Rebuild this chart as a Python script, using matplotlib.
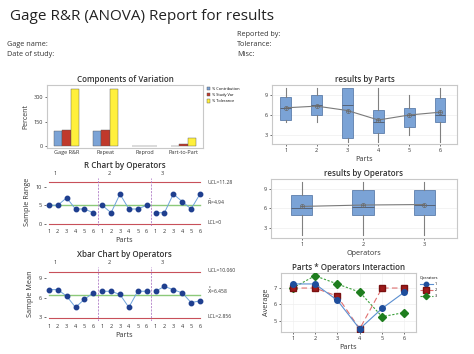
import matplotlib
matplotlib.use('Agg')
import matplotlib.pyplot as plt
import matplotlib.transforms as mtransforms
from matplotlib.patches import Patch

plt.rcParams['font.family'] = ['Open Sans', 'DejaVu Sans']
plt.rcParams['axes.unicode_minus'] = False

# ---------------- data ----------------
components = ['Gage R&R', 'Repeat', 'Reprod', 'Part-to-Part']
pct_contribution = [95, 95, 0.5, 1.5]
pct_study_var = [98, 98, 0.8, 12]
pct_tolerance = [349, 349, 1.0, 53]

parts = [1, 2, 3, 4, 5, 6]
parts_whislo = [5, 5, 2, 2, 3, 2]
parts_q1 = [5.25, 6, 2.5, 3.25, 4.25, 5]
parts_med = [7, 7.5, 7.5, 5, 6, 6]
parts_q3 = [8.75, 9, 10, 6.75, 7, 8.5]
parts_whishi = [10, 10, 10, 10, 9, 10]
parts_mean = [7.08, 7.33, 6.67, 5.25, 6.0, 6.42]

operators = [1, 2, 3]
ops_whislo = [2, 2, 2]
ops_q1 = [5, 5, 5]
ops_med = [6, 6.25, 6.5]
ops_q3 = [8, 8.75, 8.75]
ops_whishi = [10, 10, 10]
ops_mean = [6.29, 6.50, 6.58]

range_op1 = [5, 5, 7, 4, 4, 3]
range_op2 = [5, 3, 8, 4, 4, 5]
range_op3 = [3, 3, 8, 6, 4, 8]
r_ucl, r_bar, r_lcl = 11.28, 4.94, 0

mean_op1 = [7.25, 7.25, 6.25, 4.5, 5.75, 6.75]
mean_op2 = [7.0, 7.0, 6.5, 4.5, 7.0, 7.0]
mean_op3 = [7.0, 7.75, 7.25, 6.75, 5.25, 5.5]
x_ucl, x_bar, x_lcl = 10.060, 6.458, 2.856

# ---------------- styling ----------------
W, H = 474, 354
fig = plt.figure(figsize=(W / 100, H / 100), dpi=100)
fig.patch.set_facecolor('white')

BLUE_BAR = '#7BA3D6'
RED_BAR = '#C0392B'
YEL_BAR = '#FFF03C'
FRAME = '#C8C8C8'
TXT = '#333333'
NAVY = '#1F3F8F'
LBLUE = '#6FA3DA'
CL_GREEN = '#8CC97A'
LIM_RED = '#C8505A'
VDASH = '#B07CC6'


def ax_px(left, top, right, bottom):
    return fig.add_axes([left / W, 1 - bottom / H, (right - left) / W, (bottom - top) / H])


def frame(ax, show=True):
    for s in ax.spines.values():
        s.set_visible(show)
        s.set_color(FRAME)
        s.set_linewidth(0.8)
    ax.tick_params(labelsize=4, length=1.5, width=0.5, pad=1.5, colors=TXT)


def title(ax, t, pad=2.0):
    ax.set_title(t, fontsize=5.8, color=TXT, pad=pad, fontweight='semibold')


# ---------------- header ----------------
fig.text(10 / W, 1 - 17 / H, 'Gage R&R (ANOVA) Report for results', fontsize=11,
         color='#222222', va='center', ha='left')
fig.text(7 / W, 1 - 44 / H, 'Gage name:', fontsize=5.2, color=TXT, va='center')
fig.text(7 / W, 1 - 55 / H, 'Date of study:', fontsize=5.2, color=TXT, va='center')
fig.text(237 / W, 1 - 34 / H, 'Reported by:', fontsize=5.2, color=TXT, va='center')
fig.text(237 / W, 1 - 44.5 / H, 'Tolerance:', fontsize=5.2, color=TXT, va='center')
fig.text(237 / W, 1 - 55 / H, 'Misc:', fontsize=5.2, color=TXT, va='center')

# ---------------- Components of Variation ----------------
ax = ax_px(47, 85, 203, 148)
frame(ax)
xs = list(range(len(components)))
bw = 0.22
ax.bar([x - bw for x in xs], pct_contribution, bw, color=BLUE_BAR, edgecolor='#555555', linewidth=0.3)
ax.bar(xs, pct_study_var, bw, color=RED_BAR, edgecolor='#555555', linewidth=0.3)
ax.bar([x + bw for x in xs], pct_tolerance, bw, color=YEL_BAR, edgecolor='#555555', linewidth=0.3)
ax.set_xlim(-0.5, 3.5)
ax.set_ylim(-10, 371)
ax.set_yticks([0, 150, 300])
ax.set_xticks(xs)
ax.set_xticklabels(components, fontsize=4)
ax.tick_params(axis='x', length=0)
ax.set_ylabel('Percent', fontsize=5, color=TXT, labelpad=3)
title(ax, 'Components of Variation')
handles = [Patch(facecolor=BLUE_BAR, edgecolor='#555555', linewidth=0.3),
           Patch(facecolor=RED_BAR, edgecolor='#555555', linewidth=0.3),
           Patch(facecolor=YEL_BAR, edgecolor='#555555', linewidth=0.3)]
fig.legend(handles, ['% Contribution', '% Study Var', '% Tolerance'], loc='upper left',
           bbox_to_anchor=(206 / W, 1 - 86 / H), frameon=False, fontsize=2.8,
           handlelength=0.9, handleheight=0.9, labelspacing=0.6, handletextpad=0.5,
           borderaxespad=0, borderpad=0.2)


def boxes(ax, pos, lo, q1, med, q3, hi, mean, width):
    stats = []
    for i in range(len(pos)):
        stats.append(dict(whislo=lo[i], q1=q1[i], med=med[i], q3=q3[i], whishi=hi[i], mean=mean[i]))
    ax.bxp(stats, positions=pos, widths=width, patch_artist=True, showcaps=False,
           showfliers=False, showmeans=False,
           boxprops=dict(facecolor=BLUE_BAR, edgecolor='#4A6E9E', linewidth=0.5),
           whiskerprops=dict(color='#808080', linewidth=0.8),
           medianprops=dict(color='#505A6A', linewidth=0.6))
    ax.plot(pos, mean, color='#7A7A7A', linewidth=0.8, zorder=4)
    ax.plot(pos, mean, linestyle='none', marker='o', markersize=3, markerfacecolor='none',
            markeredgecolor='#6A6A6A', markeredgewidth=0.5, zorder=5)
    ax.plot(pos, mean, linestyle='none', marker='+', markersize=3, color='#6A6A6A',
            markeredgewidth=0.5, zorder=5)


# ---------------- results by Parts ----------------
ax = ax_px(272, 85, 457, 144)
frame(ax)
ax.yaxis.grid(True, color='#EEEEEE', linewidth=0.5)
ax.set_axisbelow(True)
boxes(ax, parts, parts_whislo, parts_q1, parts_med, parts_q3, parts_whishi, parts_mean, 0.35)
ax.set_xlim(0.55, 6.55)
ax.set_ylim(1.65, 10.5)
ax.set_yticks([3, 6, 9])
ax.set_xticks(parts)
ax.set_xticklabels([str(p) for p in parts])
ax.set_xlabel('Parts', fontsize=5.2, color=TXT, labelpad=2)
title(ax, 'results by Parts')

# ---------------- results by Operators ----------------
ax = ax_px(271, 179, 457, 238)
frame(ax)
ax.yaxis.grid(True, color='#EEEEEE', linewidth=0.5)
ax.set_axisbelow(True)
boxes(ax, operators, ops_whislo, ops_q1, ops_med, ops_q3, ops_whishi, ops_mean, 0.35)
ax.set_xlim(0.5, 3.53)
ax.set_ylim(1.5, 10.45)
ax.set_yticks([3, 6, 9])
ax.set_xticks(operators)
ax.set_xticklabels([str(o) for o in operators])
ax.set_xlabel('Operators', fontsize=5.2, color=TXT, labelpad=2)
title(ax, 'results by Operators')


# ---------------- control charts ----------------
def control_chart(ax, series, ucl, cl, lcl, ylim, yticks, ylabel, ttl, labels, label_y):
    frame(ax, show=False)
    n = len(series[0])
    allx = []
    for k, s in enumerate(series):
        xk = [k * n + i + 1 for i in range(n)]
        allx += xk
        ax.plot(xk, s, color=LBLUE, linewidth=0.7, zorder=3)
        ax.plot(xk, s, linestyle='none', marker='o', markersize=3.2, color=NAVY, zorder=4)
    ax.axhline(ucl, color=LIM_RED, linewidth=0.8, xmin=0.02, xmax=0.98)
    ax.axhline(lcl, color=LIM_RED, linewidth=0.8, xmin=0.02, xmax=0.98)
    ax.axhline(cl, color=CL_GREEN, linewidth=1.0, xmin=0.02, xmax=0.98)
    for k in range(1, len(series)):
        ax.axvline(k * n + 0.5, color=VDASH, linewidth=0.6, linestyle=(0, (2.5, 1.5)))
    trans = mtransforms.blended_transform_factory(ax.transData, ax.transAxes)
    for k in range(len(series)):
        ax.text(k * n + 1.75, 1.04, str(k + 1), transform=trans, fontsize=4, color=TXT,
                ha='center', va='bottom')
    ax.set_xlim(0.68, 18.34)
    ax.set_ylim(*ylim)
    ax.set_yticks(yticks)
    ax.set_xticks(allx)
    ax.set_xticklabels([str(i + 1) for _ in series for i in range(n)])
    ax.tick_params(axis='x', length=0, pad=2)
    ax.set_xlabel('Parts', fontsize=5.2, color=TXT, labelpad=2)
    ax.set_ylabel(ylabel, fontsize=5.2, color=TXT, labelpad=3)
    title(ax, ttl, pad=7.5)
    for txt, yy in zip(labels, label_y):
        fig.text(207 / W, 1 - yy / H, txt, fontsize=3.6, color=TXT, va='center', ha='left')


ax = ax_px(46, 178, 203, 226)
control_chart(ax, [range_op1, range_op2, range_op3], r_ucl, r_bar, r_lcl, (-0.55, 12.3),
              [0, 5, 10], 'Sample Range', 'R Chart by Operators',
              ['UCL=11.28', r'$\bar{\mathrm{R}}$=4.94', 'LCL=0'], [182, 202, 222])

ax = ax_px(46, 267, 203, 321)
control_chart(ax, [mean_op1, mean_op2, mean_op3], x_ucl, x_bar, x_lcl, (2.38, 10.77),
              [3, 6, 9], 'Sample Mean', 'Xbar Chart by Operators',
              ['UCL=10.060', r'$\bar{\bar{\mathrm{X}}}$=6.458', 'LCL=2.856'], [271, 291, 317])

# ---------------- interaction ----------------
ax = ax_px(281, 273, 416, 332)
frame(ax)
ax.yaxis.grid(True, color='#EEEEEE', linewidth=0.5)
ax.xaxis.grid(True, color='#F2F2F2', linewidth=0.5)
ax.set_axisbelow(True)
l1, = ax.plot(parts, mean_op1, color='#5B8FD0', linewidth=0.8, marker='o', markersize=4,
              markerfacecolor='#1F4E9C', markeredgecolor='#1F4E9C', zorder=5)
l2, = ax.plot(parts, mean_op2, color='#E07070', linewidth=0.8, linestyle=(0, (5, 3)), marker='s',
              markersize=5, markerfacecolor='#9E1B1B', markeredgecolor='#7A1010', zorder=4)
l3, = ax.plot(parts, mean_op3, color='#3CA03C', linewidth=0.8, linestyle=(0, (2, 1.5)), marker='D',
              markersize=4, markerfacecolor='#1E7D1E', markeredgecolor='#1E7D1E', zorder=3)
ax.set_xlim(0.48, 6.52)
ax.set_ylim(4.31, 7.92)
ax.set_yticks([5, 6, 7])
ax.set_xticks(parts)
ax.set_xlabel('Parts', fontsize=5.2, color=TXT, labelpad=2)
ax.set_ylabel('Average', fontsize=5.2, color=TXT, labelpad=3)
title(ax, 'Parts * Operators Interaction')
fig.legend([l1, l2, l3], ['1', '2', '3'], title='Operators', loc='upper left',
           bbox_to_anchor=(419 / W, 1 - 276 / H), frameon=False, fontsize=2.8,
           title_fontsize=2.8, handlelength=3.2, labelspacing=0.5, handletextpad=0.6,
           borderaxespad=0, borderpad=0.1, markerscale=0.8)

fig.savefig('out.png', dpi=100, facecolor='white')
